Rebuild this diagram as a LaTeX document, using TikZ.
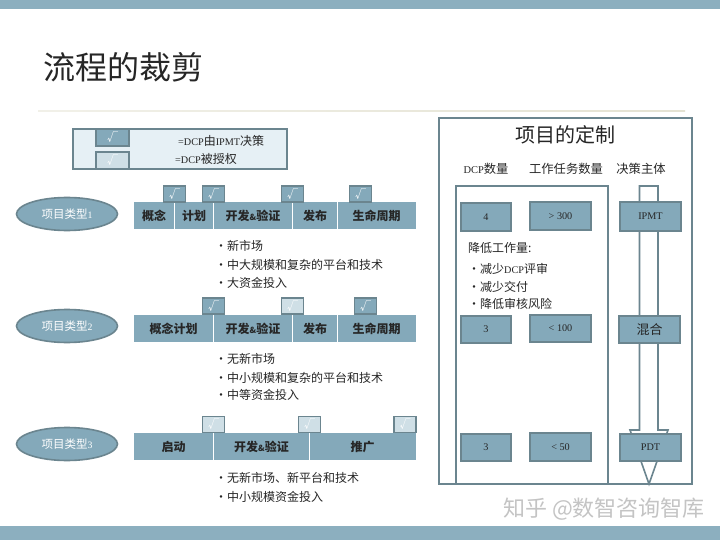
\documentclass[tikz,border=0pt]{standalone}
\usepackage{fontspec}
\setmainfont{Noto Sans CJK SC}
\newfontfamily\lat[Scale=0.85]{Liberation Serif}
\usetikzlibrary{shapes.geometric}
\definecolor{band}{HTML}{8CAFBF}
\definecolor{barfill}{HTML}{84A9BA}
\definecolor{edge}{HTML}{6B858F}
\definecolor{lightchk}{HTML}{CFDFE6}
\definecolor{legendfill}{HTML}{E6F0F5}
\definecolor{txt}{HTML}{262626}
\definecolor{wm}{HTML}{C4C4C4}
\definecolor{rule}{HTML}{E4E2D2}
\tikzset{
  x=1pt,y=-1pt,
  seg/.style={rectangle,fill=barfill,inner sep=0pt,font=\bfseries\fontsize{12}{14}\selectfont,text=txt},
  divider/.style={white,line width=0.8pt},
  chkdark/.style={rectangle,draw=edge,line width=1.8pt,fill=barfill,inner sep=0pt,minimum width=22pt,minimum height=16pt,text=white,font=\fontsize{11}{12}\selectfont},
  chklight/.style={chkdark,fill=lightchk},
  typeell/.style={ellipse,draw=edge,line width=1.6pt,fill=barfill,inner sep=0pt,minimum width=101pt,minimum height=33pt,text=white,font=\fontsize{11.5}{13}\selectfont},
  bullets/.style={anchor=west,inner sep=0pt,text=txt,font=\fontsize{12}{14}\selectfont},
  valbox/.style={rectangle,draw=edge,line width=1.6pt,fill=barfill,inner sep=0pt,text=txt,font=\fontsize{12}{13}\selectfont},
  head/.style={inner sep=0pt,text=txt,font=\fontsize{12.3}{14}\selectfont},
  frame/.style={draw=edge,line width=1.6pt}
}
\newcommand{\lt}[1]{{\lat #1}}
\newcommand{\bl}{\makebox[12pt][l]{·}}
\newcommand{\amp}{{\fontsize{8.5}{10}\selectfont\&}}
\begin{document}
\begin{tikzpicture}
\useasboundingbox (0,0) rectangle (720,540);
\fill[white] (0,0) rectangle (720,540);
\fill[band] (0,0) rectangle (720,9);
\fill[band] (0,526) rectangle (720,540);
\node[inner sep=0pt,text=txt,anchor=west,font=\fontsize{32}{36}\selectfont] (title) at (43,67) {流程的裁剪};
\shade[left color=rule!50!white,right color=rule] (38,110.5) rectangle (685,111.5);

% legend
\node[rectangle,frame,fill=legendfill,inner sep=0pt,minimum width=214pt,minimum height=40pt] (legend) at (180,149) {};
\node[chkdark,minimum width=33pt,minimum height=17pt] (lg1) at (112.5,137.5) {√};
\node[chklight,minimum width=33pt,minimum height=17pt] (lg2) at (112.5,160.5) {√};
\node[head,anchor=west,font=\fontsize{12}{14}\selectfont] (lgt1) at (178,141) {\lt{=DCP}由\lt{IPMT}决策};
\node[head,anchor=west,font=\fontsize{12}{14}\selectfont] (lgt2) at (175,159) {\lt{=DCP}被授权};

% type 1
\node[typeell] (t1) at (67,214) {项目类型\lt{1}};
\foreach \nm/\cx/\w/\lab in {a/154/40/概念,b/194/39/计划,c/253/79/开发\amp 验证,d/315/45/发布,e/376.5/78/生命周期}
  \node[seg,minimum width=\w pt,minimum height=27pt] (\nm1) at (\cx,215.5) {\lab};
\draw[divider] (a1.north east) -- (a1.south east);
\draw[divider] (b1.north east) -- (b1.south east);
\draw[divider] (c1.north east) -- (c1.south east);
\draw[divider] (d1.north east) -- (d1.south east);
\node[chkdark] (k11) at (174.5,194) {√};
\node[chkdark] (k12) at (213.5,194) {√};
\node[chkdark] (k13) at (292.5,194) {√};
\node[chkdark] (k14) at (360.5,194) {√};
\node[bullets] (b11) at (215,246) {\bl 新市场};
\node[bullets] (b12) at (215,265) {\bl 中大规模和复杂的平台和技术};
\node[bullets] (b13) at (215,283) {\bl 大资金投入};

% type 2
\node[typeell] (t2) at (67,326) {项目类型\lt{2}};
\foreach \nm/\cx/\w/\lab in {a/173.5/79/概念计划,c/253/79/开发\amp 验证,d/315/45/发布,e/376.5/78/生命周期}
  \node[seg,minimum width=\w pt,minimum height=27pt] (\nm2) at (\cx,328.5) {\lab};
\draw[divider] (a2.north east) -- (a2.south east);
\draw[divider] (c2.north east) -- (c2.south east);
\draw[divider] (d2.north east) -- (d2.south east);
\node[chkdark] (k21) at (213.5,306) {√};
\node[chklight] (k22) at (292.5,306) {√};
\node[chkdark] (k23) at (365.5,306) {√};
\node[bullets] (b21) at (215,359) {\bl 无新市场};
\node[bullets] (b22) at (215,378) {\bl 中小规模和复杂的平台和技术};
\node[bullets] (b23) at (215,395) {\bl 中等资金投入};

% type 3
\node[typeell] (t3) at (67,444) {项目类型\lt{3}};
\foreach \nm/\cx/\w/\lab in {a/173.5/79/启动,c/261.5/96/开发\amp 验证,e/362.5/106/推广}
  \node[seg,minimum width=\w pt,minimum height=27pt] (\nm3) at (\cx,446.5) {\lab};
\draw[divider] (a3.north east) -- (a3.south east);
\draw[divider] (c3.north east) -- (c3.south east);
\node[chklight] (k31) at (213.5,424.5) {√};
\node[chklight] (k32) at (309.5,424.5) {√};
\node[chklight] (k33) at (405,424.5) {√};
\node[bullets] (b31) at (215,478) {\bl 无新市场、新平台和技术};
\node[bullets] (b32) at (215,497) {\bl 中小规模资金投入};

% right panel
\node[rectangle,frame,inner sep=0pt,minimum width=253pt,minimum height=366pt] (outer) at (565.5,301) {};
\node[inner sep=0pt,text=txt,font=\fontsize{20}{24}\selectfont] (rt) at (565,135) {项目的定制};
\node[head] (h1) at (486,169) {\lt{DCP}数量};
\node[head] (h2) at (566,169) {工作任务数量};
\node[head] (h3) at (641,169) {决策主体};
\draw[frame] (456,484) -- (456,186) -- (608,186) -- (608,484);
\draw[frame,fill=white] (639.5,186) -- (658,186) -- (658,430) -- (668,430) -- (649,484) -- (630,430) -- (639.5,430) -- cycle;

\node[valbox,minimum width=50pt,minimum height=28pt] (v11) at (486,217) {\lt{4}};
\node[valbox,minimum width=61pt,minimum height=28pt] (v12) at (560.5,216) {\lt{> 300}};
\node[valbox,minimum width=61pt,minimum height=29pt] (v13) at (650.5,216.5) {\lt{IPMT}};
\node[valbox,minimum width=50pt,minimum height=27pt] (v21) at (486,329.5) {\lt{3}};
\node[valbox,minimum width=61pt,minimum height=27pt] (v22) at (560.5,328.5) {\lt{< 100}};
\node[valbox,minimum width=61pt,minimum height=27pt,font=\fontsize{13}{14}\selectfont] (v23) at (649.5,329.5) {混合};
\node[valbox,minimum width=50pt,minimum height=27pt] (v31) at (486,447.5) {\lt{3}};
\node[valbox,minimum width=61pt,minimum height=28pt] (v32) at (560.5,447) {\lt{< 50}};
\node[valbox,minimum width=61pt,minimum height=27pt] (v33) at (650.5,447.5) {\lt{PDT}};

\node[bullets] (r0) at (468,248) {降低工作量:};
\node[bullets] (r1) at (468,269) {\bl 减少\lt{DCP}评审};
\node[bullets] (r2) at (468,287) {\bl 减少交付};
\node[bullets] (r3) at (468,304) {\bl 降低审核风险};

\node[inner sep=0pt,anchor=west,text=wm,font=\fontsize{22}{26}\selectfont] (wmk) at (503,509) {知乎 @数智咨询智库};
\end{tikzpicture}
\end{document}
